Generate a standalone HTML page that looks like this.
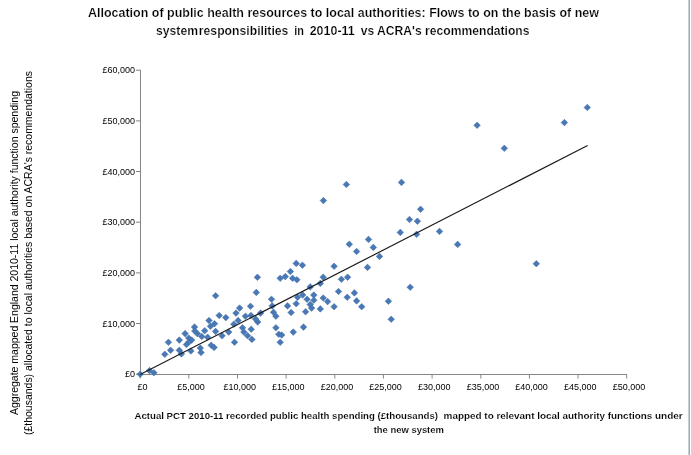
<!DOCTYPE html>
<html><head><meta charset="utf-8"><style>
html,body{margin:0;padding:0;background:#fff;}
svg{display:block;will-change:transform;}
text{font-family:"Liberation Sans",sans-serif;fill:#000;}
</style></head><body>
<svg width="691" height="455" viewBox="0 0 691 455">
<rect x="0" y="0" width="691" height="455" fill="#fff"/>
<line x1="689.2" y1="0" x2="689.2" y2="455" stroke="#90a4a6" stroke-width="1.4"/>
<g font-weight="bold" font-size="12.6" fill="#000" stroke="#fff" stroke-width="0.22">
<text x="88" y="16.5" textLength="511" lengthAdjust="spacingAndGlyphs">Allocation of public health resources to local authorities: Flows to on the basis of new</text>
<text x="156" y="34.5" textLength="42" lengthAdjust="spacingAndGlyphs">system</text>
<text x="198.8" y="34.5" textLength="89.6" lengthAdjust="spacingAndGlyphs">responsibilities</text>
<text x="294.3" y="34.5" textLength="9.7" lengthAdjust="spacingAndGlyphs">in</text>
<text x="309.7" y="34.5" textLength="45" lengthAdjust="spacingAndGlyphs">2010-11</text>
<text x="360.7" y="34.5" textLength="168.8" lengthAdjust="spacingAndGlyphs">vs ACRA's recommendations</text>
</g>
<g font-size="10" fill="#000">
<text transform="translate(17.8,415) rotate(-90)" x="0" y="0" textLength="324" lengthAdjust="spacingAndGlyphs">Aggregate mapped England 2010-11 local authority function spending</text>
<text transform="translate(31.8,435) rotate(-90)" x="0" y="0" textLength="364" lengthAdjust="spacingAndGlyphs">(£thousands) allocated to local authorities based on ACRA's recommendations</text>
</g>
<g font-weight="bold" font-size="9.8" fill="#000" stroke="#fff" stroke-width="0.12">
<text x="134.5" y="418.5" textLength="303.5" lengthAdjust="spacingAndGlyphs">Actual PCT 2010-11 recorded public health spending (£thousands)</text>
<text x="443.6" y="418.5" textLength="239" lengthAdjust="spacingAndGlyphs">mapped to relevant local authority functions under</text>
<text x="373.7" y="432.7" textLength="70.2" lengthAdjust="spacingAndGlyphs">the new system</text>
</g>
<g stroke="#868686" stroke-width="1" fill="none">
<line x1="140.5" y1="70" x2="140.5" y2="374.5"/>
<line x1="140" y1="374.5" x2="627" y2="374.5"/>
<line x1="136" y1="374.2" x2="140.5" y2="374.2"/><line x1="136" y1="323.5" x2="140.5" y2="323.5"/><line x1="136" y1="272.9" x2="140.5" y2="272.9"/><line x1="136" y1="222.2" x2="140.5" y2="222.2"/><line x1="136" y1="171.5" x2="140.5" y2="171.5"/><line x1="136" y1="120.9" x2="140.5" y2="120.9"/><line x1="136" y1="70.2" x2="140.5" y2="70.2"/><line x1="140.2" y1="374.5" x2="140.2" y2="378.5"/><line x1="188.8" y1="374.5" x2="188.8" y2="378.5"/><line x1="237.5" y1="374.5" x2="237.5" y2="378.5"/><line x1="286.1" y1="374.5" x2="286.1" y2="378.5"/><line x1="334.8" y1="374.5" x2="334.8" y2="378.5"/><line x1="383.4" y1="374.5" x2="383.4" y2="378.5"/><line x1="432.1" y1="374.5" x2="432.1" y2="378.5"/><line x1="480.8" y1="374.5" x2="480.8" y2="378.5"/><line x1="529.4" y1="374.5" x2="529.4" y2="378.5"/><line x1="578.0" y1="374.5" x2="578.0" y2="378.5"/><line x1="626.7" y1="374.5" x2="626.7" y2="378.5"/>
</g>
<g font-size="9" fill="#000">
<text x="135" y="377.4" text-anchor="end">£0</text><text x="135" y="326.7" text-anchor="end">£10,000</text><text x="135" y="276.1" text-anchor="end">£20,000</text><text x="135" y="225.4" text-anchor="end">£30,000</text><text x="135" y="174.7" text-anchor="end">£40,000</text><text x="135" y="124.1" text-anchor="end">£50,000</text><text x="135" y="73.4" text-anchor="end">£60,000</text>
<text x="142.4" y="389.8" text-anchor="middle">£0</text><text x="191.0" y="389.8" text-anchor="middle">£5,000</text><text x="239.7" y="389.8" text-anchor="middle">£10,000</text><text x="288.3" y="389.8" text-anchor="middle">£15,000</text><text x="337.0" y="389.8" text-anchor="middle">£20,000</text><text x="385.6" y="389.8" text-anchor="middle">£25,000</text><text x="434.3" y="389.8" text-anchor="middle">£30,000</text><text x="482.9" y="389.8" text-anchor="middle">£35,000</text><text x="531.6" y="389.8" text-anchor="middle">£40,000</text><text x="580.2" y="389.8" text-anchor="middle">£45,000</text><text x="628.9" y="389.8" text-anchor="middle">£50,000</text>
</g>
<g fill="#4878b5" stroke="#426da5" stroke-width="0.5">
<path d="M140.2 370.9L143.5 374.2L140.2 377.5L136.9 374.2Z"/><path d="M149.5 367.3L152.8 370.6L149.5 373.9L146.2 370.6Z"/><path d="M153.9 369.5L157.2 372.8L153.9 376.1L150.6 372.8Z"/><path d="M164.8 351.0L168.1 354.3L164.8 357.6L161.5 354.3Z"/><path d="M168.4 339.0L171.7 342.3L168.4 345.6L165.1 342.3Z"/><path d="M170.6 347.0L173.9 350.3L170.6 353.6L167.3 350.3Z"/><path d="M179.3 336.8L182.6 340.1L179.3 343.4L176.0 340.1Z"/><path d="M179.3 347.0L182.6 350.3L179.3 353.6L176.0 350.3Z"/><path d="M181.4 350.6L184.7 353.9L181.4 357.2L178.1 353.9Z"/><path d="M185.1 330.3L188.4 333.6L185.1 336.9L181.8 333.6Z"/><path d="M188.7 334.7L192.0 338.0L188.7 341.3L185.4 338.0Z"/><path d="M186.5 341.2L189.8 344.5L186.5 347.8L183.2 344.5Z"/><path d="M191.6 336.8L194.9 340.1L191.6 343.4L188.3 340.1Z"/><path d="M190.9 347.7L194.2 351.0L190.9 354.3L187.6 351.0Z"/><path d="M194.5 323.8L197.8 327.1L194.5 330.4L191.2 327.1Z"/><path d="M197.4 330.3L200.7 333.6L197.4 336.9L194.1 333.6Z"/><path d="M200.3 344.8L203.6 348.1L200.3 351.4L197.0 348.1Z"/><path d="M201.0 349.2L204.3 352.5L201.0 355.8L197.7 352.5Z"/><path d="M201.8 333.2L205.1 336.5L201.8 339.8L198.5 336.5Z"/><path d="M204.7 327.4L208.0 330.7L204.7 334.0L201.4 330.7Z"/><path d="M207.6 333.9L210.9 337.2L207.6 340.5L204.3 337.2Z"/><path d="M209.0 317.2L212.3 320.5L209.0 323.8L205.7 320.5Z"/><path d="M210.5 323.0L213.8 326.3L210.5 329.6L207.2 326.3Z"/><path d="M211.2 341.9L214.5 345.2L211.2 348.5L207.9 345.2Z"/><path d="M214.1 344.1L217.4 347.4L214.1 350.7L210.8 347.4Z"/><path d="M215.6 328.1L218.9 331.4L215.6 334.7L212.3 331.4Z"/><path d="M219.2 312.2L222.5 315.5L219.2 318.8L215.9 315.5Z"/><path d="M222.1 332.5L225.4 335.8L222.1 339.1L218.8 335.8Z"/><path d="M214.5 320.4L217.8 323.7L214.5 327.0L211.2 323.7Z"/><path d="M228.7 328.8L232.0 332.1L228.7 335.4L225.4 332.1Z"/><path d="M234.5 339.0L237.8 342.3L234.5 345.6L231.2 342.3Z"/><path d="M233.8 320.9L237.1 324.2L233.8 327.5L230.5 324.2Z"/><path d="M238.1 317.2L241.4 320.5L238.1 323.8L234.8 320.5Z"/><path d="M242.5 324.5L245.8 327.8L242.5 331.1L239.2 327.8Z"/><path d="M243.9 328.8L247.2 332.1L243.9 335.4L240.6 332.1Z"/><path d="M247.6 332.5L250.9 335.8L247.6 339.1L244.3 335.8Z"/><path d="M251.2 325.9L254.5 329.2L251.2 332.5L247.9 329.2Z"/><path d="M251.9 336.1L255.2 339.4L251.9 342.7L248.6 339.4Z"/><path d="M257.7 318.7L261.0 322.0L257.7 325.3L254.4 322.0Z"/><path d="M255.6 315.8L258.9 319.1L255.6 322.4L252.3 319.1Z"/><path d="M225.8 314.3L229.1 317.6L225.8 320.9L222.5 317.6Z"/><path d="M245.4 312.9L248.7 316.2L245.4 319.5L242.1 316.2Z"/><path d="M275.9 324.5L279.2 327.8L275.9 331.1L272.6 327.8Z"/><path d="M278.8 331.0L282.1 334.3L278.8 337.6L275.5 334.3Z"/><path d="M281.7 331.7L285.0 335.0L281.7 338.3L278.4 335.0Z"/><path d="M280.2 339.0L283.5 342.3L280.2 345.6L276.9 342.3Z"/><path d="M293.3 328.8L296.6 332.1L293.3 335.4L290.0 332.1Z"/><path d="M303.5 323.8L306.8 327.1L303.5 330.4L300.2 327.1Z"/><path d="M275.9 312.9L279.2 316.2L275.9 319.5L272.6 316.2Z"/><path d="M291.1 309.2L294.4 312.5L291.1 315.8L287.8 312.5Z"/><path d="M257.4 274.0L260.7 277.3L257.4 280.6L254.1 277.3Z"/><path d="M256.3 289.1L259.6 292.4L256.3 295.7L253.0 292.4Z"/><path d="M296.2 260.1L299.5 263.4L296.2 266.7L292.9 263.4Z"/><path d="M302.4 261.9L305.7 265.2L302.4 268.5L299.1 265.2Z"/><path d="M290.4 268.2L293.7 271.5L290.4 274.8L287.1 271.5Z"/><path d="M280.2 275.0L283.5 278.3L280.2 281.6L276.9 278.3Z"/><path d="M285.3 273.3L288.6 276.6L285.3 279.9L282.0 276.6Z"/><path d="M292.6 275.0L295.9 278.3L292.6 281.6L289.3 278.3Z"/><path d="M296.9 276.5L300.2 279.8L296.9 283.1L293.6 279.8Z"/><path d="M271.5 296.0L274.8 299.3L271.5 302.6L268.2 299.3Z"/><path d="M272.2 302.6L275.5 305.9L272.2 309.2L268.9 305.9Z"/><path d="M250.5 303.0L253.8 306.3L250.5 309.6L247.2 306.3Z"/><path d="M239.6 304.8L242.9 308.1L239.6 311.4L236.3 308.1Z"/><path d="M236.0 309.8L239.3 313.1L236.0 316.4L232.7 313.1Z"/><path d="M287.5 302.6L290.8 305.9L287.5 309.2L284.2 305.9Z"/><path d="M296.2 300.4L299.5 303.7L296.2 307.0L292.9 303.7Z"/><path d="M297.6 293.9L300.9 297.2L297.6 300.5L294.3 297.2Z"/><path d="M302.7 291.7L306.0 295.0L302.7 298.3L299.4 295.0Z"/><path d="M307.1 296.0L310.4 299.3L307.1 302.6L303.8 299.3Z"/><path d="M305.6 308.4L308.9 311.7L305.6 315.0L302.3 311.7Z"/><path d="M260.6 309.8L263.9 313.1L260.6 316.4L257.3 313.1Z"/><path d="M215.6 292.5L218.9 295.8L215.6 299.1L212.3 295.8Z"/><path d="M310.2 301.2L313.5 304.5L310.2 307.8L306.9 304.5Z"/><path d="M311.6 304.8L314.9 308.1L311.6 311.4L308.3 308.1Z"/><path d="M313.8 291.8L317.1 295.1L313.8 298.4L310.5 295.1Z"/><path d="M313.8 296.9L317.1 300.2L313.8 303.5L310.5 300.2Z"/><path d="M320.3 305.6L323.6 308.9L320.3 312.2L317.0 308.9Z"/><path d="M323.2 294.7L326.5 298.0L323.2 301.3L319.9 298.0Z"/><path d="M327.6 298.3L330.9 301.6L327.6 304.9L324.3 301.6Z"/><path d="M334.1 303.4L337.4 306.7L334.1 310.0L330.8 306.7Z"/><path d="M338.5 288.2L341.8 291.5L338.5 294.8L335.2 291.5Z"/><path d="M347.2 294.0L350.5 297.3L347.2 300.6L343.9 297.3Z"/><path d="M354.4 289.6L357.7 292.9L354.4 296.2L351.1 292.9Z"/><path d="M356.6 297.6L359.9 300.9L356.6 304.2L353.3 300.9Z"/><path d="M361.7 303.4L365.0 306.7L361.7 310.0L358.4 306.7Z"/><path d="M388.4 297.9L391.7 301.2L388.4 304.5L385.1 301.2Z"/><path d="M391.2 316.0L394.5 319.3L391.2 322.6L387.9 319.3Z"/><path d="M379.5 253.1L382.8 256.4L379.5 259.7L376.2 256.4Z"/><path d="M410.2 284.0L413.5 287.3L410.2 290.6L406.9 287.3Z"/><path d="M349.3 240.9L352.6 244.2L349.3 247.5L346.0 244.2Z"/><path d="M356.6 248.2L359.9 251.5L356.6 254.8L353.3 251.5Z"/><path d="M368.5 236.1L371.8 239.4L368.5 242.7L365.2 239.4Z"/><path d="M373.3 244.1L376.6 247.4L373.3 250.7L370.0 247.4Z"/><path d="M367.5 264.1L370.8 267.4L367.5 270.7L364.2 267.4Z"/><path d="M334.1 263.0L337.4 266.3L334.1 269.6L330.8 266.3Z"/><path d="M323.2 273.9L326.5 277.2L323.2 280.5L319.9 277.2Z"/><path d="M320.3 280.1L323.6 283.4L320.3 286.7L317.0 283.4Z"/><path d="M310.2 283.6L313.5 286.9L310.2 290.2L306.9 286.9Z"/><path d="M341.4 276.0L344.7 279.3L341.4 282.6L338.1 279.3Z"/><path d="M347.6 273.9L350.9 277.2L347.6 280.5L344.3 277.2Z"/><path d="M420.6 206.0L423.9 209.3L420.6 212.6L417.3 209.3Z"/><path d="M409.5 216.2L412.8 219.5L409.5 222.8L406.2 219.5Z"/><path d="M417.4 217.9L420.7 221.2L417.4 224.5L414.1 221.2Z"/><path d="M400.3 229.1L403.6 232.4L400.3 235.7L397.0 232.4Z"/><path d="M416.6 231.0L419.9 234.3L416.6 237.6L413.3 234.3Z"/><path d="M439.5 228.1L442.8 231.4L439.5 234.7L436.2 231.4Z"/><path d="M457.6 241.1L460.9 244.4L457.6 247.7L454.3 244.4Z"/><path d="M504.3 145.0L507.6 148.3L504.3 151.6L501.0 148.3Z"/><path d="M346.4 181.2L349.7 184.5L346.4 187.8L343.1 184.5Z"/><path d="M323.4 197.3L326.7 200.6L323.4 203.9L320.1 200.6Z"/><path d="M401.5 179.1L404.8 182.4L401.5 185.7L398.2 182.4Z"/><path d="M477.1 122.0L480.4 125.3L477.1 128.6L473.8 125.3Z"/><path d="M536.3 260.4L539.6 263.7L536.3 267.0L533.0 263.7Z"/><path d="M564.4 119.3L567.7 122.6L564.4 125.9L561.1 122.6Z"/><path d="M587.3 104.2L590.6 107.5L587.3 110.8L584.0 107.5Z"/><path d="M189.0 338.7L192.3 342.0L189.0 345.3L185.7 342.0Z"/><path d="M194.8 327.7L198.1 331.0L194.8 334.3L191.5 331.0Z"/><path d="M251.0 312.2L254.3 315.5L251.0 318.8L247.7 315.5Z"/><path d="M273.5 309.0L276.8 312.3L273.5 315.6L270.2 312.3Z"/>
</g>
<line x1="140.2" y1="374.5" x2="587.6" y2="145.5" stroke="#1a1a1a" stroke-width="1.15"/>
</svg>
</body></html>
